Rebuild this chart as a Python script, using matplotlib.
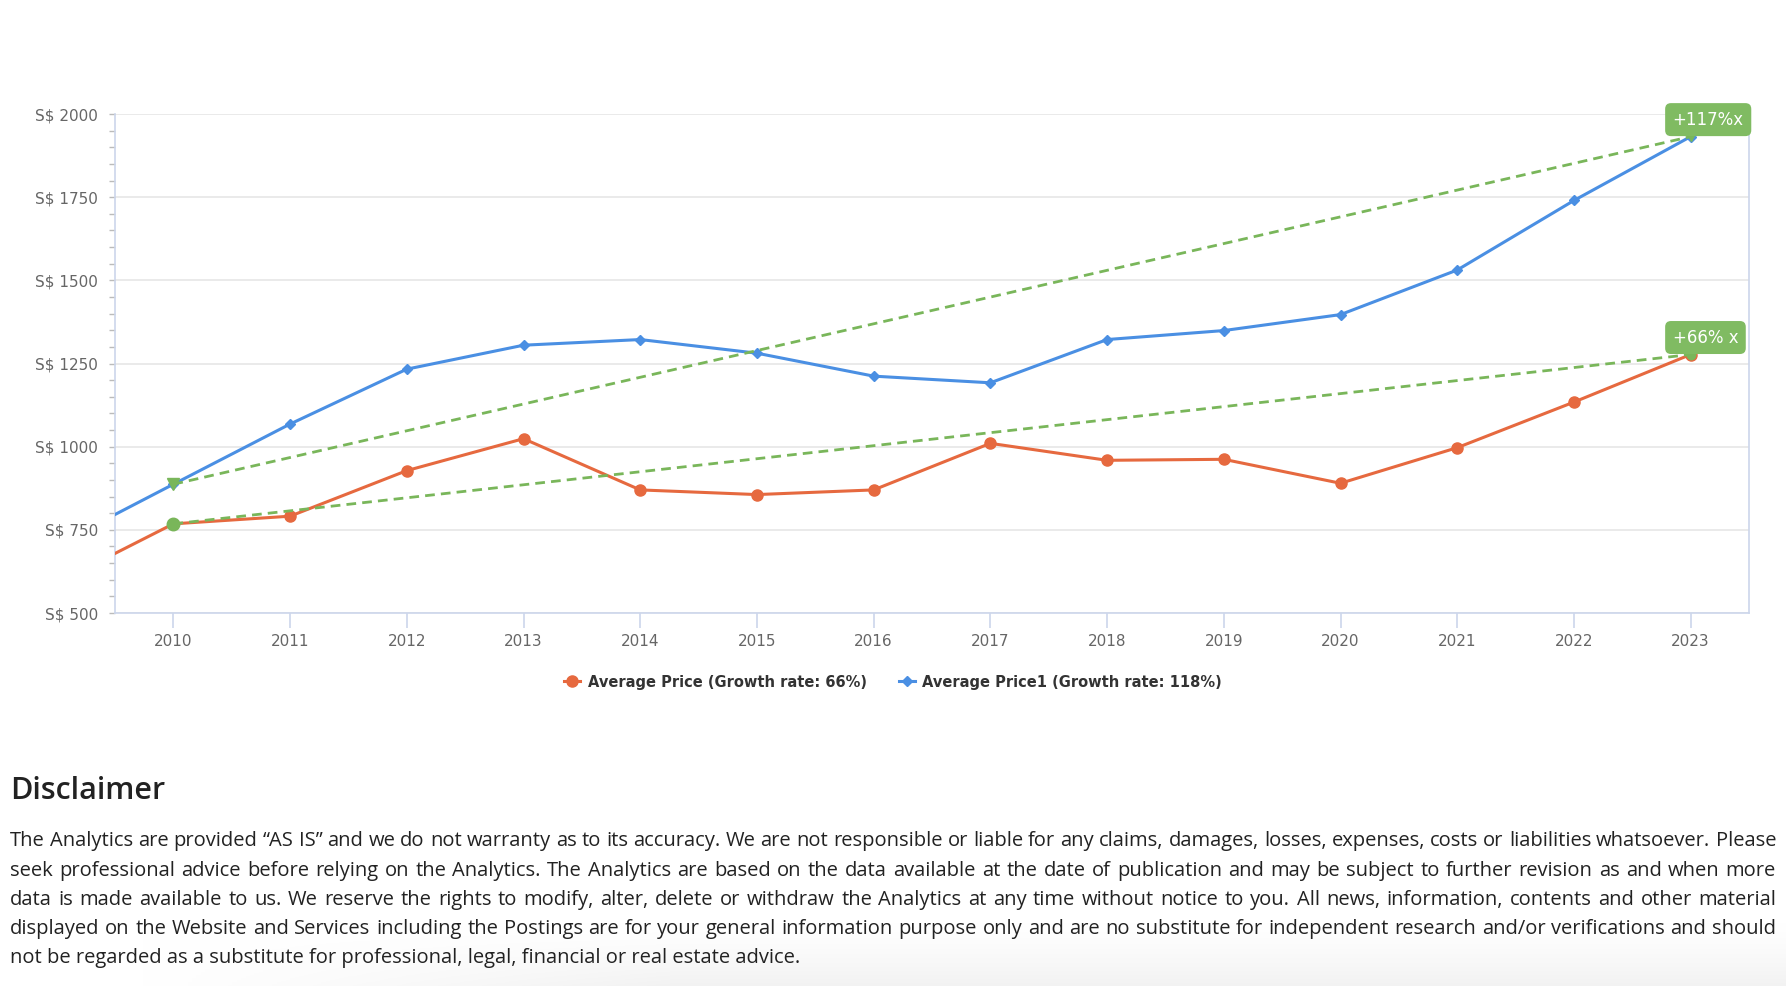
import matplotlib
matplotlib.use("Agg")
import matplotlib.pyplot as plt
import numpy as np
from matplotlib.lines import Line2D
from matplotlib.font_manager import FontProperties

# ---------------- data ----------------
years = [2009, 2010, 2011, 2012, 2013, 2014, 2015, 2016, 2017, 2018, 2019, 2020, 2021, 2022, 2023]
avg_price = [590, 768, 791, 928, 1024, 870, 856, 870, 1010, 959, 962, 890, 997, 1134, 1277]
avg_price1 = [705, 887, 1068, 1233, 1305, 1322, 1281, 1212, 1192, 1322, 1349, 1397, 1531, 1740, 1932]
trend_years = [2010, 2023]
trend_price = [768, 1277]
trend_price1 = [887, 1932]
label_price = "+66% x"
label_price1 = "+117%x"
legend_labels = ["Average Price (Growth rate: 66%)", "Average Price1 (Growth rate: 118%)"]
yticks = [500, 750, 1000, 1250, 1500, 1750, 2000]
ytick_labels = ["S$ %d" % v for v in yticks]
xtick_years = list(range(2010, 2024))

heading = "Disclaimer"
disclaimer_lines = [
    "The Analytics are provided \u201cAS IS\u201d and we do not warranty as to its accuracy. We are not responsible or liable for any claims, damages, losses, expenses, costs or liabilities whatsoever. Please",
    "seek professional advice before relying on the Analytics. The Analytics are based on the data available at the date of publication and may be subject to further revision as and when more",
    "data is made available to us. We reserve the rights to modify, alter, delete or withdraw the Analytics at any time without notice to you. All news, information, contents and other material",
    "displayed on the Website and Services including the Postings are for your general information purpose only and are no substitute for independent research and/or verifications and should",
    "not be regarded as a substitute for professional, legal, financial or real estate advice.",
]

# ---------------- style ----------------
ORANGE = "#e6693f"
BLUE = "#4a8fe3"
GREEN = "#79b65a"
BOXGREEN = "#80bb62"
AXIS = "#ccd6eb"
GRID = "#e6e6e6"
TXT = "#666666"

W, H = 1786, 986
fig = plt.figure(figsize=(W / 100, H / 100), dpi=100)
fig.patch.set_facecolor("white")

# bottom soft shading
SH = 70
bg = fig.add_axes([0, 0, 1, SH / H], zorder=-5)
yy = np.linspace(0, 1, SH)[:, None]
xx = np.linspace(0, 1, 400)[None, :]
shade = np.clip((yy - 0.1) / 0.9, 0, 1) ** 1.3 * np.clip((xx - 0.08) / 0.3, 0, 1)
img = 1 - 0.05 * shade
bg.imshow(np.dstack([img, img, img]), aspect="auto", extent=[0, 1, 0, 1], origin="upper")
bg.axis("off")

left, right, top, bottom = 115, 1749, 114, 613
ax = fig.add_axes([left / W, 1 - bottom / H, (right - left) / W, (bottom - top) / H])
ax.set_xlim(2009.5, 2023.5)
ax.set_ylim(500, 2000)

ax.spines["top"].set_visible(False)
for s in ["left", "bottom", "right"]:
    ax.spines[s].set_color(AXIS)
    ax.spines[s].set_linewidth(1.2)

ax.set_yticks(yticks)
ax.set_yticklabels(ytick_labels)
ax.set_yticks(np.arange(500, 2001, 50), minor=True)
ax.tick_params(axis="y", which="major", length=4, width=1, color="#bbbbbb", pad=8,
               labelsize=11, labelcolor=TXT)
ax.tick_params(axis="y", which="minor", length=4, width=1, color="#bbbbbb")
ax.set_xticks(xtick_years)
ax.set_xticklabels([str(y) for y in xtick_years])
ax.tick_params(axis="x", length=11, width=1.2, color=AXIS, pad=4, labelsize=11, labelcolor=TXT)
ax.grid(axis="y", which="major", color=GRID, linewidth=1.2)
ax.set_axisbelow(True)

ax.plot(years, avg_price, color=ORANGE, lw=2.2, marker="o", ms=8, clip_on=True, zorder=3)
ax.plot(years, avg_price1, color=BLUE, lw=2.2, marker="D", ms=5.5, clip_on=True, zorder=3)
ax.plot(trend_years, trend_price, color=GREEN, lw=2, ls=(0, (3.5, 2.2)), zorder=4)
ax.plot(trend_years, trend_price1, color=GREEN, lw=2, ls=(0, (3.5, 2.2)), zorder=4)
ax.plot([trend_years[0]], [trend_price[0]], marker="o", ms=9, color=GREEN, zorder=5)
ax.plot([trend_years[0]], [trend_price1[0]], marker="v", ms=8, color=GREEN, zorder=5)
ax.plot([trend_years[1]], [trend_price[1]], marker="o", ms=6, color=GREEN, zorder=5)
ax.plot([trend_years[1]], [trend_price1[1]], marker="v", ms=6, color=GREEN, zorder=5)

for yv, lab in [(trend_price1[1], label_price1), (trend_price[1], label_price)]:
    ax.annotate(lab, xy=(trend_years[1], yv), xytext=(-18, 8), textcoords="offset pixels",
                ha="left", va="bottom", color="white", fontsize=12,
                bbox=dict(boxstyle="round,pad=0.45,rounding_size=0.35", fc=BOXGREEN, ec="none"),
                zorder=6, annotation_clip=False)

handles = [
    Line2D([0], [0], color=ORANGE, lw=2.2, marker="o", ms=8),
    Line2D([0], [0], color=BLUE, lw=2.2, marker="D", ms=5.5),
]
fig.legend(handles, legend_labels, loc="center", bbox_to_anchor=(0.5, 1 - 682 / H), ncol=2,
           frameon=False, prop=dict(weight="bold", size=10.5), labelcolor="#333333",
           handlelength=1.1, handletextpad=0.5, columnspacing=2.2)

# ---------------- disclaimer ----------------
fig.text(10 / W, 1 - 791 / H, heading, fontsize=22, family="Open Sans", weight="semibold",
         color="#222222", ha="left", va="center")

fp = FontProperties(family="Open Sans", size=14.5)
renderer = fig.canvas.get_renderer()

def wwidth(s):
    w, h, d = renderer.get_text_width_height_descent(s, fp, ismath=False)
    return w

x0, x1 = 10, 1776
baselines = [846, 876, 905, 934, 963]
for i, (line, yb) in enumerate(zip(disclaimer_lines, baselines)):
    words = line.split(" ")
    widths = [wwidth(w) for w in words]
    last = i == len(disclaimer_lines) - 1
    if last:
        fig.text(x0 / W, 1 - yb / H, line, fontproperties=fp, color="#222222",
                 ha="left", va="baseline")
        continue
    gap = (x1 - x0 - sum(widths)) / (len(words) - 1)
    x = x0
    for w, wd in zip(words, widths):
        fig.text(x / W, 1 - yb / H, w, fontproperties=fp, color="#222222",
                 ha="left", va="baseline")
        x += wd + gap

fig.savefig("out.png", dpi=100, facecolor="white")
